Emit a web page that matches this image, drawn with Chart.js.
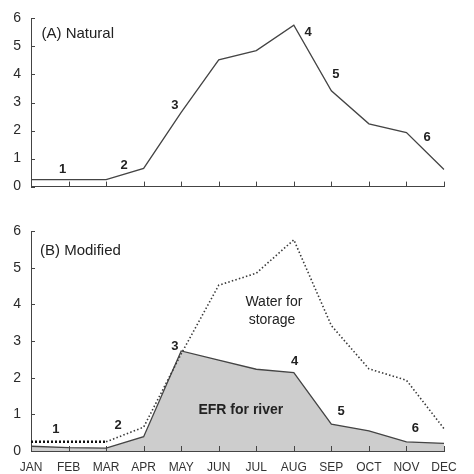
<!DOCTYPE html>
<html>
<head>
<meta charset="utf-8">
<script src="https://cdn.jsdelivr.net/npm/chart.js@4.4.1/dist/chart.umd.min.js"></script>
<style>
  html, body { margin: 0; padding: 0; background: #fff; }
  #wrap { position: relative; width: 474px; height: 474px; overflow: hidden; }
  #c1 { position: absolute; left: 0; top: 0; }
  #c2 { position: absolute; left: 0; top: 205px; }
</style>
</head>
<body>
<div id="wrap">
  <canvas id="c1" width="474" height="205"></canvas>
  <canvas id="c2" width="474" height="269"></canvas>
</div>
<script>
// ---- data ----
const months = ['JAN','FEB','MAR','APR','MAY','JUN','JUL','AUG','SEP','OCT','NOV','DEC'];
const naturalFlow = [0.25, 0.25, 0.25, 0.65, 2.65, 4.52, 4.85, 5.76, 3.42, 2.24, 1.93, 0.61];
const efrFlow     = [0.13, 0.09, 0.08, 0.39, 2.73, 2.48, 2.23, 2.14, 0.73, 0.55, 0.25, 0.21];
const yTickValues = [0, 1, 2, 3, 4, 5, 6];

// ---- annotations (data coordinates: x = month index, y = value) ----
const FONT = 'Arial, "Liberation Sans", sans-serif';
const notesTop = [
  { t: '(A) Natural', x: 0.28, y: 5.44, font: '15px ' + FONT, align: 'left' },
  { t: '1', x: 0.84, y: 0.60, font: 'bold 13px ' + FONT },
  { t: '2', x: 2.48, y: 0.76, font: 'bold 13px ' + FONT },
  { t: '3', x: 3.83, y: 2.91, font: 'bold 13px ' + FONT },
  { t: '4', x: 7.38, y: 5.50, font: 'bold 13px ' + FONT },
  { t: '5', x: 8.12, y: 3.99, font: 'bold 13px ' + FONT },
  { t: '6', x: 10.55, y: 1.75, font: 'bold 13px ' + FONT }
];
const notesBottom = [
  { t: '(B) Modified', x: 0.24, y: 5.46, font: '15px ' + FONT, align: 'left' },
  { t: '1', x: 0.66, y: 0.60, font: 'bold 13px ' + FONT },
  { t: '2', x: 2.32, y: 0.71, font: 'bold 13px ' + FONT },
  { t: '3', x: 3.83, y: 2.84, font: 'bold 13px ' + FONT },
  { t: '4', x: 7.02, y: 2.44, font: 'bold 13px ' + FONT },
  { t: '5', x: 8.26, y: 1.07, font: 'bold 13px ' + FONT },
  { t: '6', x: 10.24, y: 0.62, font: 'bold 13px ' + FONT },
  { t: 'Water for', x: 6.47, y: 4.07, font: '14px ' + FONT },
  { t: 'storage', x: 6.42, y: 3.57, font: '14px ' + FONT },
  { t: 'EFR for river', x: 5.59, y: 1.12, font: 'bold 14px ' + FONT }
];

const TEXT = '#222';
const LINE = '#444';

const notesPlugin = {
  id: 'notes',
  afterDatasetsDraw(chart, args, opts) {
    const ctx = chart.ctx, xs = chart.scales.x, ys = chart.scales.y;
    ctx.save();
    ctx.fillStyle = TEXT;
    ctx.textBaseline = 'middle';
    (opts.items || []).forEach(n => {
      ctx.font = n.font;
      ctx.textAlign = n.align || 'center';
      ctx.fillText(n.t, xs.getPixelForValue(n.x), ys.getPixelForValue(n.y));
    });
    ctx.restore();
  }
};

const inwardTicks = {
  id: 'inwardTicks',
  afterDraw(chart) {
    const ctx = chart.ctx, xs = chart.scales.x, ys = chart.scales.y;
    const a = chart.chartArea;
    ctx.save();
    ctx.strokeStyle = LINE;
    ctx.lineWidth = 1;
    ctx.beginPath();
    yTickValues.forEach(v => {
      const py = Math.round(ys.getPixelForValue(v)) + 0.5;
      ctx.moveTo(a.left, py); ctx.lineTo(a.left + 4, py);
    });
    months.forEach((m, i) => {
      const px = Math.round(xs.getPixelForValue(i)) + 0.5;
      ctx.moveTo(px, a.bottom); ctx.lineTo(px, a.bottom - 5);
    });
    ctx.stroke();
    ctx.restore();
  }
};

function makeScales(showX, xHeight) {
  return {
    x: {
      type: 'category',
      offset: false,
      grid: { display: true, drawOnChartArea: false, drawTicks: false, offset: false },
      border: { display: true, color: LINE, width: 1 },
      ticks: {
        display: showX, autoSkip: false, maxRotation: 0, padding: 9,
        color: '#333', font: { family: FONT, size: 12 }
      },
      afterFit(s) { s.height = xHeight; }
    },
    y: {
      min: 0, max: 6,
      afterBuildTicks(s) { s.ticks = yTickValues.map(v => ({ value: v })); },
      grid: { display: true, drawOnChartArea: false, drawTicks: false },
      border: { display: true, color: LINE, width: 1 },
      ticks: { padding: 10, color: '#2a2a2a', font: { family: FONT, size: 14 } },
      afterFit(s) { s.width = 31; }
    }
  };
}

Chart.defaults.animation = false;

new Chart(document.getElementById('c1'), {
  type: 'line',
  data: {
    labels: months,
    datasets: [{
      data: naturalFlow, borderColor: LINE, borderWidth: 1.3,
      pointRadius: 0, fill: false, tension: 0
    }]
  },
  options: {
    responsive: false, animation: false,
    layout: { padding: { top: 8, right: 30, left: 0, bottom: 0 } },
    plugins: { legend: { display: false }, tooltip: { enabled: false }, notes: { items: notesTop } },
    scales: makeScales(false, 15)
  },
  plugins: [notesPlugin, inwardTicks]
});

new Chart(document.getElementById('c2'), {
  type: 'line',
  data: {
    labels: months,
    datasets: [
      {
        data: efrFlow, borderColor: LINE, borderWidth: 1.3,
        backgroundColor: '#cdcdcd', fill: 'origin',
        pointRadius: 0, tension: 0, order: 2
      },
      {
        data: naturalFlow, borderColor: '#3a3a3a', borderWidth: 1.6,
        borderDash: [1.5, 2.2], pointRadius: 0, fill: false, tension: 0, order: 1,
        segment: {
          borderColor: c => c.p0DataIndex < 2 ? '#111' : '#3a3a3a',
          borderWidth: c => c.p0DataIndex < 2 ? 2.5 : 1.6,
          borderDash: c => c.p0DataIndex < 2 ? [2, 2] : [1.5, 2.2]
        }
      }
    ]
  },
  options: {
    responsive: false, animation: false,
    layout: { padding: { top: 26, right: 30, left: 0, bottom: 0 } },
    plugins: { legend: { display: false }, tooltip: { enabled: false }, notes: { items: notesBottom } },
    scales: makeScales(true, 23)
  },
  plugins: [notesPlugin, inwardTicks]
});
</script>
</body>
</html>
